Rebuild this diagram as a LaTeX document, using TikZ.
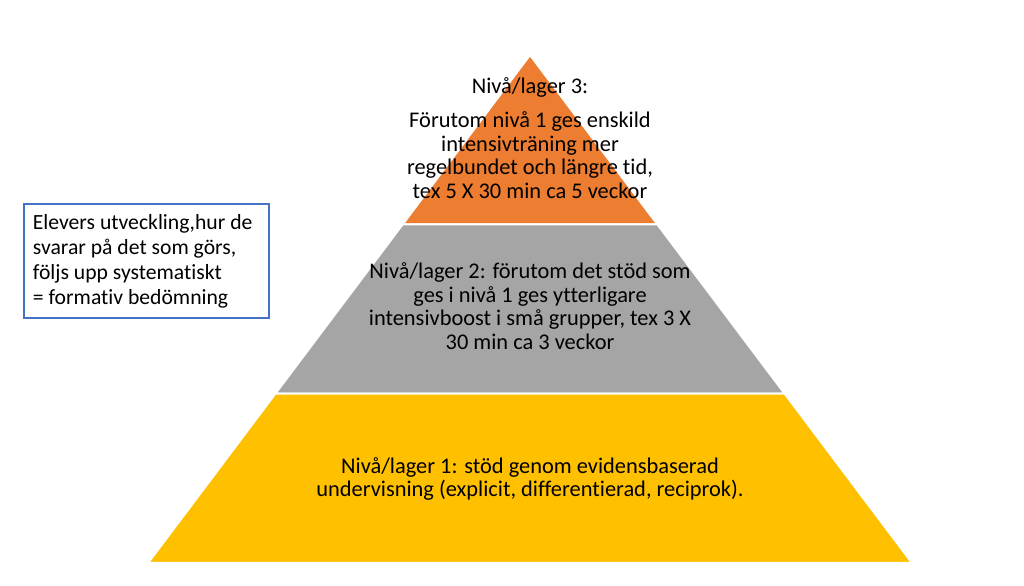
\documentclass[tikz,border=0pt]{standalone}
\usepackage{fontspec}
\setmainfont{Carlito}[Ligatures=NoCommon]
\usetikzlibrary{calc}
\definecolor{toporange}{HTML}{ED7D31}
\definecolor{midgray}{HTML}{A5A5A5}
\definecolor{baseyellow}{HTML}{FFC000}
\definecolor{boxblue}{HTML}{4472C4}

\begin{document}
\begin{tikzpicture}[x=0.9375pt,y=-0.9375pt,
				layer/.style={draw=white,line width=1.9pt},
				level/.style={align=center,inner sep=0pt,
									font=\fontsize{21}{22}\selectfont},
				infobox/.style={draw=boxblue,line width=2.6pt,align=flush left,
									font=\fontsize{20.3}{23.4}\selectfont,
									minimum width=229.7pt,minimum height=106.9pt,
									text width=213pt,inner xsep=8pt}]
\path[ use as bounding box ] (0,0) rectangle (1024,586);

	% pyramid corners
	\coordinate (apex) at (530,55);
	\coordinate (bl) at (148,563);
	\coordinate (br) at (912,563);
	\coordinate (l1) at ($(apex)!1/3!(bl)$);
	\coordinate (r1) at ($(apex)!1/3!(br)$);
	\coordinate (l2) at ($(apex)!2/3!(bl)$);
	\coordinate (r2) at ($(apex)!2/3!(br)$);

	\path[layer,fill=toporange] (apex) -- (r1) -- (l1) -- cycle;
	\path[layer,fill=midgray] (l1) -- (r1) -- (r2) -- (l2) -- cycle;
	\path[layer,fill=baseyellow] (l2) -- (r2) -- (br) -- (bl) -- cycle;

	\node[level] (lager3) at (530,138) {Nivå/lager 3:\\[10pt]
		Förutom nivå 1 ges enskild\\ intensivträning mer\\
		regelbundet och längre tid,\\ tex 5 X 30 min ca 5 veckor};
	\node[level] (lager2) at (530,306) {Nivå/lager 2: förutom det stöd som\\
		ges i nivå 1 ges ytterligare\\ intensivboost i små grupper, tex 3 X\\
		30 min ca 3 veckor};
	\node[level] (lager1) at (530,479) {Nivå/lager 1: stöd genom evidensbaserad\\
		undervisning (explicit, differentierad, reciprok).};

	\node[infobox] (uppfoljning) at (146.5,261) {Elevers utveckling,hur de\\
		svarar på det som görs,\\ följs upp systematiskt\\ = formativ bedömning};
\end{tikzpicture}
\end{document}
